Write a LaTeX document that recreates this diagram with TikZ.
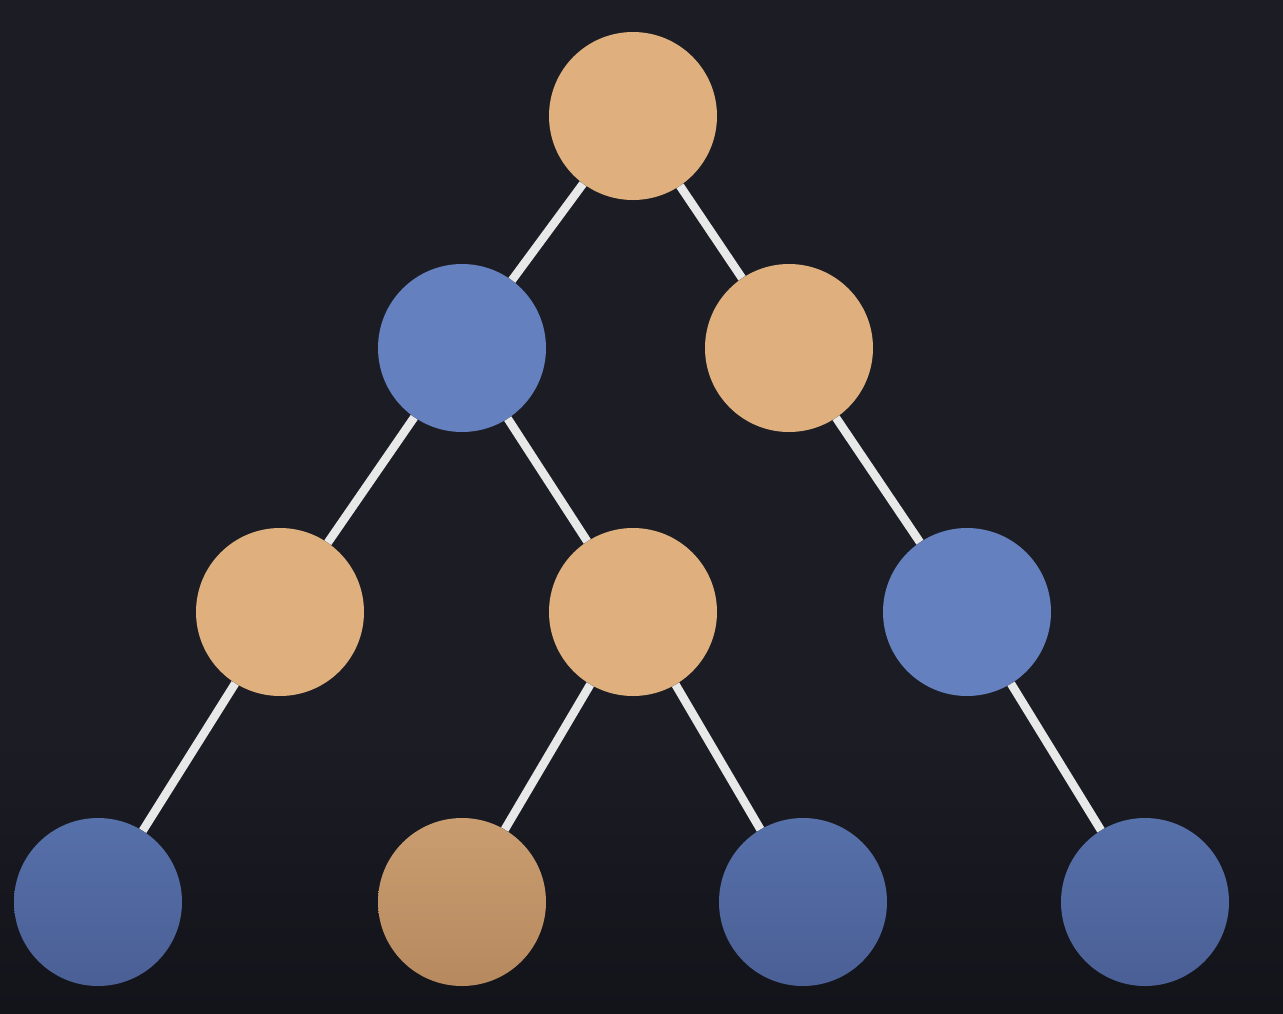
\documentclass[tikz,border=0pt]{standalone}
\begin{document}
\begin{tikzpicture}[x=1pt,y=-1pt,
  orangenode/.style={circle,minimum size=168pt,inner sep=0pt,fill=orangefill},
  bluenode/.style={circle,minimum size=168pt,inner sep=0pt,fill=bluefill},
  orangelow/.style={circle,minimum size=168pt,inner sep=0pt,top color=orangelowtop,bottom color=orangelowbot},
  bluelow/.style={circle,minimum size=168pt,inner sep=0pt,top color=bluelowtop,bottom color=bluelowbot},
  edge/.style={draw=edgecol,line width=8.5pt}]
\definecolor{bg}{HTML}{1B1C24}
\definecolor{bglow}{HTML}{13141A}
\definecolor{orangefill}{HTML}{DFB07D}
\definecolor{bluefill}{HTML}{6480BF}
\definecolor{orangelowtop}{HTML}{C99D70}
\definecolor{orangelowbot}{HTML}{B68A5E}
\definecolor{bluelowtop}{HTML}{5670AA}
\definecolor{bluelowbot}{HTML}{4A5F95}
\definecolor{edgecol}{HTML}{E8E8E8}
\fill[bg] (0,0) rectangle (1283,740);
\shade[top color=bg,bottom color=bglow] (0,739) rectangle (1283,1013);
\useasboundingbox (0,0) rectangle (1283,1013);
\node[orangenode] (r) at (633,116) {};
\node[bluenode] (a) at (462,348) {};
\node[orangenode] (b) at (789,348) {};
\node[orangenode] (c) at (280,612) {};
\node[orangenode] (d) at (633,612) {};
\node[bluenode] (e) at (967,612) {};
\node[bluelow] (f) at (98,902) {};
\node[orangelow] (g) at (462,902) {};
\node[bluelow] (h) at (803,902) {};
\node[bluelow] (i) at (1145,902) {};
\path[edge] (r) -- (a);
\path[edge] (r) -- (b);
\path[edge] (a) -- (c);
\path[edge] (a) -- (d);
\path[edge] (b) -- (e);
\path[edge] (c) -- (f);
\path[edge] (d) -- (g);
\path[edge] (d) -- (h);
\path[edge] (e) -- (i);
\end{tikzpicture}
\end{document}
